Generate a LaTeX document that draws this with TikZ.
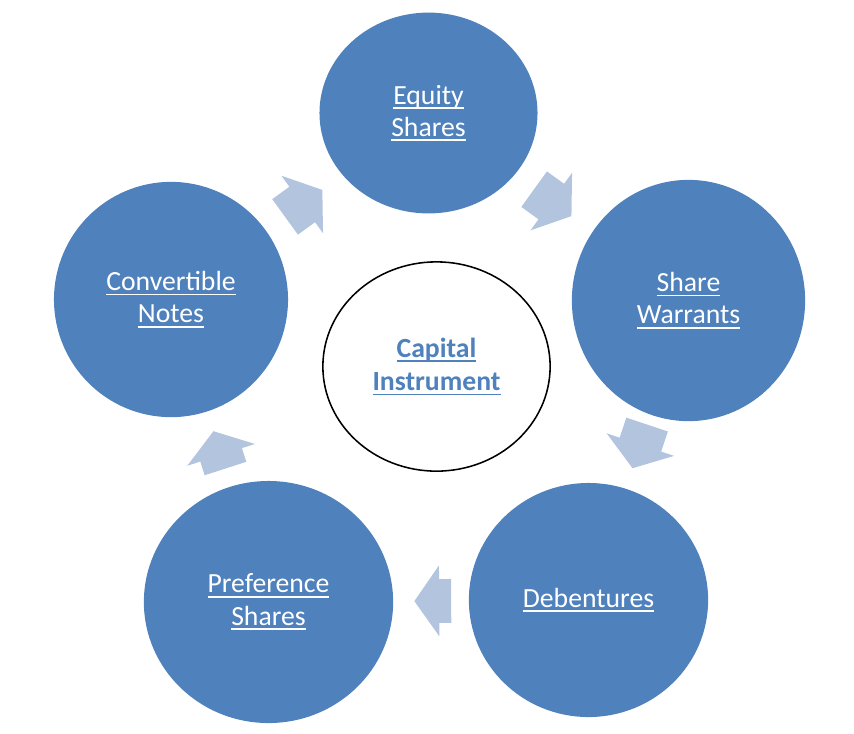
\documentclass[tikz,border=0pt]{standalone}
\usepackage{fontspec}
\setmainfont{Carlito}
\usetikzlibrary{shapes.geometric,shapes.arrows}
\definecolor{cycleblue}{HTML}{4F81BD}
\definecolor{arrowblue}{HTML}{B3C4DF}
\newcommand{\ulword}[1]{\setbox0\hbox{#1}\rlap{\rule[-0.17em]{\wd0}{0.065em}}\box0}

\begin{document}
\begin{tikzpicture}[x=0.025cm, y=-0.025cm,
  every node/.style={font=\fontsize{19.7}{23}\selectfont, align=center},
  item/.style={ellipse, fill=cycleblue, text=white, inner sep=0pt},
  hub/.style={ellipse, draw, line width=1.1pt, fill=white, text=cycleblue, inner sep=0pt,
    font=\fontsize{19.7}{24}\selectfont\bfseries},
  flow/.style={single arrow, fill=arrowblue, inner xsep=0pt, inner ysep=0.54cm,
    minimum width=0pt, single arrow head extend=0.34cm, single arrow tip angle=110,
    minimum height=1.15cm, sloped, allow upside down}]
\useasboundingbox (0,0) rectangle (854,733);
\node[item, minimum width=5.45cm, minimum height=5.02cm] (equity) at (428.5,113) {\ulword{Equity}\\\ulword{Shares}};
\node[item, minimum width=5.83cm, minimum height=6.03cm] (warrants) at (688.5,300.5) {\ulword{Share}\\\ulword{Warrants}};
\node[item, minimum width=5.98cm, minimum height=5.85cm] (debentures) at (588.5,600) {\ulword{Debentures}};
\node[item, minimum width=6.23cm, minimum height=6.05cm] (preference) at (268.5,602) {\ulword{Preference}\\\ulword{Shares}};
\node[item, minimum width=5.85cm, minimum height=5.88cm] (convertible) at (171,299.5) {\ulword{Convertible}\\\ulword{Notes}};
\node[hub, minimum width=5.68cm, minimum height=5.23cm] (capital) at (436.5,366.5) {\ulword{Capital}\\\ulword{Instrument}};
\path (convertible) -- node[flow, pos=0.41] {} (equity);
\path (equity) -- node[flow, pos=0.41] {} (warrants);
\path (warrants) -- node[flow, pos=0.33] {} (debentures);
\path (debentures) -- node[flow, pos=0.375, minimum height=0.92cm] {} (preference);
\path (preference) -- node[flow, pos=0.39, minimum height=0.98cm] {} (convertible);
\end{tikzpicture}
\end{document}
